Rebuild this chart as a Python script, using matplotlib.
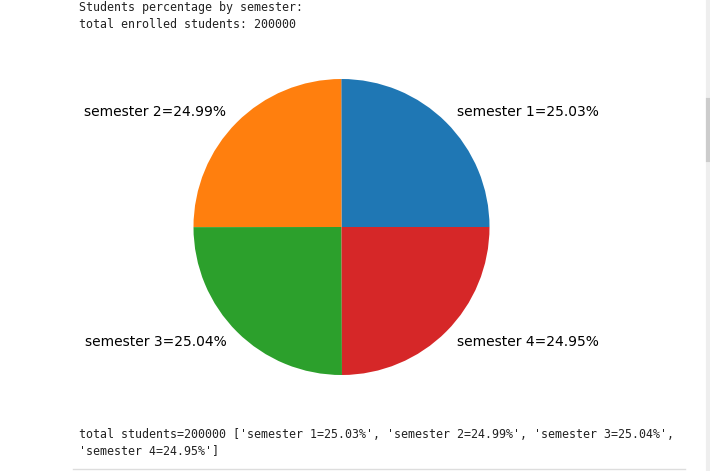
import matplotlib.pyplot as plt
import matplotlib

matplotlib.rcParams['font.family'] = 'DejaVu Sans'

# students per semester (total 200000)
semesters = ['semester 1', 'semester 2', 'semester 3', 'semester 4']
counts = [50052, 49978, 50072, 49898]
colors = ['#1f77b4', '#ff7f0e', '#2ca02c', '#d62728']

total = sum(counts)
labels = [f"{s}={c / total * 100:.2f}%" for s, c in zip(semesters, counts)]

W, H = 710, 471
fig = plt.figure(figsize=(W / 100, H / 100), dpi=100)

# pie centred at (341, 227) px, radius ~148 px
side = 400
cx, cy = 341.5, H - 227
ax = fig.add_axes([(cx - side / 2) / W, (cy - side / 2) / H, side / W, side / H])
ax.pie(counts, labels=labels, colors=colors, textprops={'fontsize': 10})
lim = side / (2 * 148)
ax.set_xlim(-lim, lim)
ax.set_ylim(-lim, lim)
ax.set_aspect('auto')
ax.axis('off')

mono = dict(family='DejaVu Sans Mono', color='#222222', va='center', ha='left')
fig.text(79 / W, 1 - 8 / H, "Students percentage by semester:", fontsize=8.38, **mono)
fig.text(79 / W, 1 - 24 / H, "total enrolled students: 200000", fontsize=8.38, **mono)
fig.text(79 / W, 1 - 434 / H, f"total students={total} " + str(labels[:3])[:-1] + ",",
         fontsize=8.38, **mono)
fig.text(79 / W, 1 - 451 / H, repr(labels[3]) + "]", fontsize=8.38, **mono)

# notebook cell border and scrollbar
fig.add_artist(plt.Line2D([73 / W, 685 / W], [1 - 469 / H, 1 - 469 / H], color='#dddddd', lw=1))
fig.add_artist(plt.Line2D([708 / W, 708 / W], [0, 1], color='#eeeeee', lw=3))
fig.add_artist(plt.Line2D([708 / W, 708 / W], [1 - 100 / H, 1 - 160 / H], color='#cccccc', lw=3))

fig.savefig('out.png', dpi=100)
